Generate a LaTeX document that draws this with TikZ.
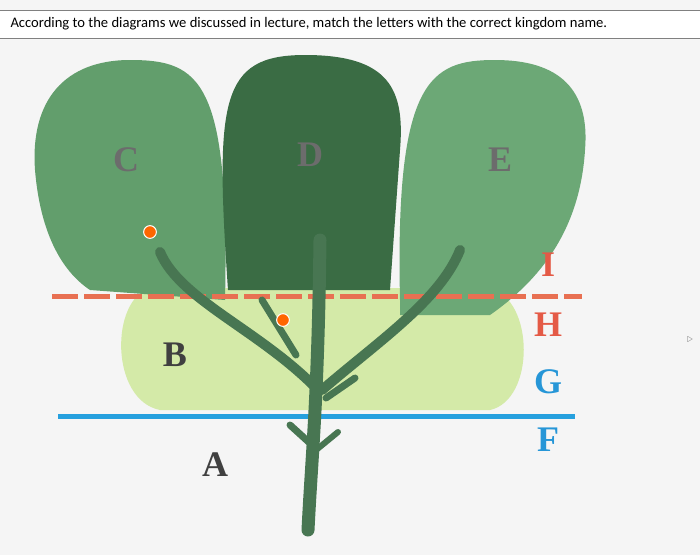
\documentclass[tikz,border=0pt]{standalone}
\usepackage{fontspec}
\setsansfont{Carlito}
\newfontfamily\lblfont{Liberation Serif}
\begin{document}
\begin{tikzpicture}[x=1pt,y=-1pt,
  lbl/.style={font=\lblfont\bfseries\fontsize{36}{36}\selectfont},
  flower/.style={circle,fill=orange!80!red,draw=white,line width=1pt,inner sep=4.5pt}]
\useasboundingbox (0,0) rectangle (700,555);
\fill[gray!8] (0,0) rectangle (700,555);
\fill[white] (0,10) rectangle (700,38);
\draw[gray] (0,10) -- (700,10) (0,38) -- (700,38);
\node[font=\sffamily\fontsize{14.6}{15}\selectfont,anchor=west] (q) at (7,24) {According to the diagrams we discussed in lecture, match the letters with the correct kingdom name.};
\definecolor{cC}{RGB}{98,158,108}
\definecolor{cD}{RGB}{58,108,68}
\definecolor{cE}{RGB}{108,168,118}
\definecolor{cB}{RGB}{212,234,168}
\definecolor{tree}{RGB}{72,118,82}
\fill[cB] (150,288) .. controls (110,300) and (110,400) .. (160,410) -- (490,410) .. controls (535,400) and (535,300) .. (490,288) -- cycle;
\fill[cE] (400,300) .. controls (395,80) and (430,60) .. (495,60) .. controls (560,60) and (590,90) .. (585,150) .. controls (580,230) and (540,280) .. (490,315) -- (400,315) -- cycle;
\fill[cC] (225,300) .. controls (230,80) and (200,60) .. (130,60) .. controls (65,60) and (30,100) .. (35,170) .. controls (40,230) and (60,270) .. (90,290) -- cycle;
\fill[cD] (228,290) .. controls (215,100) and (220,55) .. (305,55) .. controls (390,55) and (405,90) .. (400,150) -- (390,290) -- cycle;
\draw[line width=5pt,color={rgb,255:red,232;green,112;blue,82},dash pattern=on 26pt off 6pt] (52,296) -- (582,296);
\draw[line width=5pt,color={rgb,255:red,38;green,160;blue,222}] (58,416) -- (575,416);
\draw[tree,line width=13pt,line cap=round] (308,530) .. controls (312,450) and (318,400) .. (320,240);
\draw[tree,line width=10pt,line cap=round] (318,390) .. controls (260,330) and (180,300) .. (160,252);
\draw[tree,line width=10pt,line cap=round] (322,390) .. controls (380,340) and (440,300) .. (460,250);
\draw[tree,line width=7pt,line cap=round] (296,355) -- (262,300);
\draw[tree,line width=7pt,line cap=round] (326,398) -- (355,378);
\draw[tree,line width=7pt,line cap=round] (312,445) -- (290,425);
\draw[tree,line width=6pt,line cap=round] (310,455) -- (338,432);
\node[flower] (f1) at (150,232) {};
\node[flower] (f2) at (283,320) {};
\node[lbl,gray!85!black] (C) at (126,160) {C};
\node[lbl,gray!85!black] (D) at (310,155) {D};
\node[lbl,gray!85!black] (E) at (500,160) {E};
\node[lbl,black!75] (B) at (175,355) {B};
\node[lbl,black!75] (A) at (215,465) {A};
\node[lbl,color={rgb,255:red,228;green,90;blue,70}] (I) at (548,265) {I};
\node[lbl,color={rgb,255:red,228;green,90;blue,70}] (H) at (548,325) {H};
\node[lbl,color={rgb,255:red,38;green,150;blue,215}] (G) at (548,382) {G};
\node[lbl,color={rgb,255:red,38;green,150;blue,215}] (F) at (548,440) {F};
\node[gray,font=\large] (m) at (690,340) {$\triangleright$};
\end{tikzpicture}
\end{document}
